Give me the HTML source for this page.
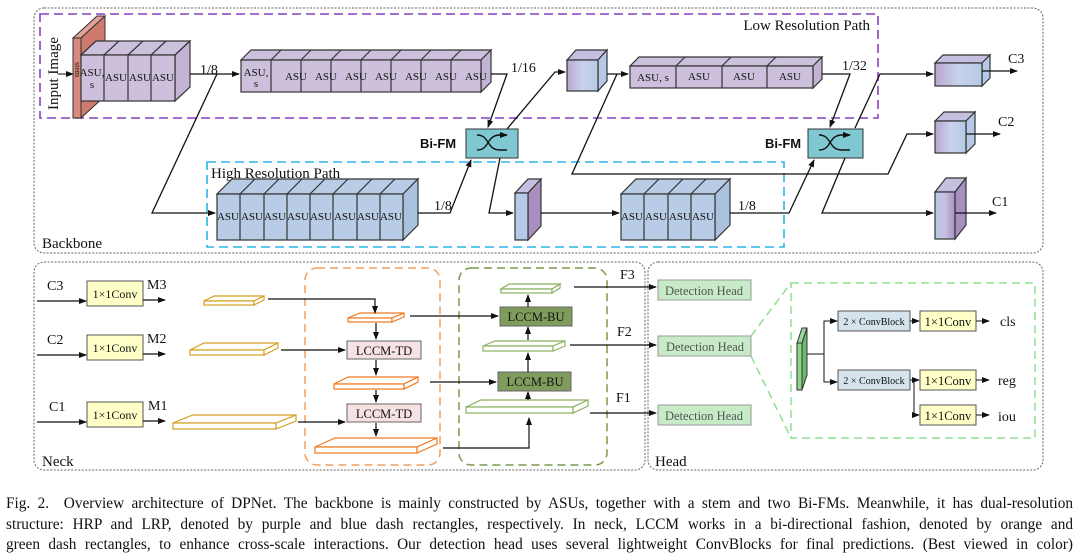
<!DOCTYPE html>
<html><head><meta charset="utf-8"><style>
html,body{margin:0;padding:0;background:#fff;width:1080px;height:557px;overflow:hidden}
svg{position:absolute;left:0;top:0}
svg text{font-family:"Liberation Serif",serif;fill:#111}
.cap{position:absolute;left:6px;width:1067px;font-family:"Liberation Serif",serif;font-size:15.3px;color:#111;text-align:justify;text-align-last:justify;white-space:nowrap;line-height:20.5px}
.cap span{display:block}
</style></head><body>
<svg width="1080" height="557" viewBox="0 0 1080 557">
<defs>
<marker id="a" markerWidth="8" markerHeight="6" refX="7" refY="3" orient="auto" markerUnits="userSpaceOnUse"><path d="M0,0 L8,3 L0,6z" fill="#111"/></marker>
<linearGradient id="g1" x1="0" x2="1"><stop offset="0" stop-color="#b9a6cf"/><stop offset="0.5" stop-color="#c8d2ea"/><stop offset="1" stop-color="#b6c9e6"/></linearGradient>
<linearGradient id="g2" x1="0" x2="1"><stop offset="0" stop-color="#b6c9e6"/><stop offset="0.5" stop-color="#c8c2e0"/><stop offset="1" stop-color="#a88fbf"/></linearGradient>
</defs>
<g fill="none" stroke="#666" stroke-width="1" stroke-dasharray="2,1.5">
<rect x="34" y="8" width="1009" height="245" rx="10"/>
<rect x="34" y="262" width="611" height="208" rx="10"/>
<rect x="648" y="262" width="395" height="208" rx="10"/>
</g>
<rect x="40" y="14" width="838" height="104" fill="none" stroke="#8a3fbf" stroke-width="1.6" stroke-dasharray="9,5"/>
<rect x="207" y="162" width="577" height="85" fill="none" stroke="#2bb5e8" stroke-width="1.6" stroke-dasharray="9,5"/>
<text x="870" y="30" font-size="15" text-anchor="end">Low Resolution Path</text>
<text x="211" y="178" font-size="15">High Resolution Path</text>
<text x="42" y="248" font-size="15">Backbone</text>
<text x="42" y="466" font-size="15">Neck</text>
<text x="655" y="466" font-size="15">Head</text>
<text transform="translate(58,110) rotate(-90)" font-size="15">Input Image</text>
<line x1="58" y1="74" x2="73" y2="74" stroke="#111" marker-end="url(#a)"/>
<g stroke="#333" stroke-width="1">
<polygon points="73,38 81,38 105,16 97,16" fill="#e2a196"/>
<polygon points="81,38 105,16 105,96 81,118" fill="#cf7a6e"/>
<rect x="73" y="38" width="8" height="80" fill="#d9897d"/>
</g>
<text transform="translate(75,62) rotate(90)" font-size="8">stem</text>
<g stroke="#333" stroke-width="1.2" fill="#cdc0dd">
<polygon points="81,55 96,41 190,41 175,55"/>
<polygon points="175,55 190,41 190,87 175,101" fill="#c3b4d6"/>
<rect x="81" y="55" width="94" height="46"/>
<path d="M104,101V55L119,41M128,101V55L143,41M151,101V55L166,41" fill="none"/>
</g>
<g font-size="11" text-anchor="middle"><text x="92" y="76">ASU,</text><text x="92" y="88">s</text><text x="116" y="81">ASU</text><text x="140" y="81">ASU</text><text x="163" y="81">ASU</text></g>
<text x="200" y="74" font-size="14">1/8</text>
<g stroke="#333" stroke-width="1.2" fill="#cdc0dd">
<polygon points="241,60 251,50 491,50 481,60"/>
<polygon points="481,60 491,50 491,82 481,92" fill="#c3b4d6"/>
<rect x="241" y="60" width="240" height="32"/>
<path d="M271,92V60L281,50M301,92V60L311,50M331,92V60L341,50M361,92V60L371,50M391,92V60L401,50M421,92V60L431,50M451,92V60L461,50" fill="none"/>
</g>
<g font-size="11" text-anchor="middle"><text x="256" y="76">ASU,</text><text x="256" y="87">s</text><text x="296" y="80">ASU</text><text x="326" y="80">ASU</text><text x="356" y="80">ASU</text><text x="386" y="80">ASU</text><text x="416" y="80">ASU</text><text x="446" y="80">ASU</text><text x="476" y="80">ASU</text></g>
<text x="511" y="72" font-size="14">1/16</text>
<g stroke="#333" stroke-width="1.2" fill="#cdc0dd">
<polygon points="630,66 639,57 822,57 813,66"/>
<polygon points="813,66 822,57 822,79 813,88" fill="#c3b4d6"/>
<rect x="630" y="66" width="183" height="22"/>
<path d="M676,88V66L685,57M722,88V66L731,57M767,88V66L776,57" fill="none"/>
</g>
<g font-size="11" text-anchor="middle"><text x="653" y="81">ASU, s</text><text x="699" y="80">ASU</text><text x="744" y="80">ASU</text><text x="790" y="80">ASU</text></g>
<text x="842" y="70" font-size="14">1/32</text>
<g stroke="#333" stroke-width="1.2" fill="#b8cce6">
<polygon points="217,194 232,179 418,179 403,194"/>
<polygon points="403,194 418,179 418,225 403,240" fill="#aac1e0"/>
<rect x="217" y="194" width="186" height="46"/>
<path d="M240,240V194L255,179M264,240V194L279,179M287,240V194L302,179M310,240V194L325,179M333,240V194L348,179M357,240V194L372,179M380,240V194L395,179" fill="none"/>
</g>
<g font-size="11" text-anchor="middle"><text x="228" y="220">ASU</text><text x="252" y="220">ASU</text><text x="275" y="220">ASU</text><text x="298" y="220">ASU</text><text x="321" y="220">ASU</text><text x="345" y="220">ASU</text><text x="368" y="220">ASU</text><text x="391" y="220">ASU</text></g>
<text x="434" y="210" font-size="14">1/8</text>
<g stroke="#333" stroke-width="1.2" fill="#b8cce6">
<polygon points="621,194 636,179 730,179 715,194"/>
<polygon points="715,194 730,179 730,225 715,240" fill="#aac1e0"/>
<rect x="621" y="194" width="94" height="46"/>
<path d="M644,240V194L659,179M668,240V194L683,179M691,240V194L706,179" fill="none"/>
</g>
<g font-size="11" text-anchor="middle"><text x="632" y="220">ASU</text><text x="656" y="220">ASU</text><text x="680" y="220">ASU</text><text x="703" y="220">ASU</text></g>
<text x="738" y="210" font-size="14">1/8</text>
<g stroke="#333" stroke-width="1.2">
<polygon points="567,60 576,50 607,50 598,60" fill="#c5c0e0"/><polygon points="598,60 607,50 607,81 598,91" fill="#b6c9e6"/><rect x="567" y="60" width="31" height="31" fill="url(#g1)"/>
<polygon points="515,193 528,179 541,179 528,193" fill="#c5c0e0"/><polygon points="528,193 541,179 541,226 528,240" fill="#a88fbf"/><rect x="515" y="193" width="13" height="47" fill="#b6c9e6"/>
<polygon points="935,63 943,55 990,55 982,63" fill="#c5c0e0"/><polygon points="982,63 990,55 990,78 982,86" fill="#b6c9e6"/><rect x="935" y="63" width="47" height="23" fill="url(#g1)"/>
<polygon points="935,121 944,112 975,112 966,121" fill="#c5c0e0"/><polygon points="966,121 975,112 975,144 966,153" fill="#b6c9e6"/><rect x="935" y="121" width="31" height="32" fill="url(#g1)"/>
<polygon points="935,192 946,178 966,178 955,192" fill="#c5c0e0"/><polygon points="955,192 966,178 966,225 955,239" fill="#a88fbf"/><rect x="935" y="192" width="20" height="47" fill="url(#g2)"/>
</g>
<g stroke="#333" stroke-width="1"><rect x="466" y="129" width="52" height="29" fill="#7fc8d2"/><rect x="808" y="129" width="55" height="29" fill="#7fc8d2"/></g>
<g fill="none" stroke="#111" stroke-width="1.4">
<path d="M477,135 C490,135 486,150 500,150 L507,150 M477,150 C490,150 486,135 500,135 L507,135" marker-end="url(#a)"/>
<path d="M819,135 C832,135 828,150 842,150 L850,150 M819,150 C832,150 828,135 842,135 L850,135" marker-end="url(#a)"/>
</g>
<text x="420" y="148" font-size="13" font-weight="bold" style="font-family:'Liberation Sans',sans-serif">Bi-FM</text>
<text x="765" y="148" font-size="13" font-weight="bold" style="font-family:'Liberation Sans',sans-serif">Bi-FM</text>
<g fill="none" stroke="#111" stroke-width="1.3">
<path d="M190,74 H239" marker-end="url(#a)"/>
<path d="M217,74 L152,213 H215" marker-end="url(#a)"/>
<path d="M491,74 H507 L488,127" marker-end="url(#a)"/>
<path d="M418,213 H450 L471,160" marker-end="url(#a)"/>
<path d="M507,129 L555,72 H565" marker-end="url(#a)"/>
<path d="M500,158 L489,213 H513" marker-end="url(#a)"/>
<path d="M607,74 H628" marker-end="url(#a)"/>
<path d="M617,74 L572,174 H888 L907,134 H933" marker-end="url(#a)"/>
<path d="M541,213 H619" marker-end="url(#a)"/>
<path d="M822,74 H850 L830,127" marker-end="url(#a)"/>
<path d="M730,213 H789 L814,160" marker-end="url(#a)"/>
<path d="M855,128 L880,74 H933" marker-end="url(#a)"/>
<path d="M845,158 L822,213 H933" marker-end="url(#a)"/>
<path d="M982,71 H1017" marker-end="url(#a)"/>
<path d="M966,134 H1000" marker-end="url(#a)"/>
<path d="M955,213 H996" marker-end="url(#a)"/>
</g>
<g font-size="14"><text x="1008" y="63">C3</text><text x="998" y="126">C2</text><text x="992" y="206">C1</text></g>
<rect x="305" y="268" width="135" height="197" rx="12" fill="none" stroke="#f0a060" stroke-width="1.5" stroke-dasharray="8,5"/>
<rect x="459" y="268" width="148" height="197" rx="12" fill="none" stroke="#7a9a4a" stroke-width="1.5" stroke-dasharray="8,5"/>
<g stroke="#555" stroke-width="1" fill="#ffffc8"><rect x="87" y="281" width="56" height="25"/><rect x="87" y="335" width="56" height="25"/><rect x="87" y="402" width="56" height="25"/></g>
<g font-size="12" text-anchor="middle"><text x="115" y="298">1×1Conv</text><text x="115" y="352">1×1Conv</text><text x="115" y="419">1×1Conv</text></g>
<g font-size="14"><text x="47" y="290">C3</text><text x="47" y="344">C2</text><text x="49" y="411">C1</text><text x="147" y="289">M3</text><text x="147" y="343">M2</text><text x="148" y="410">M1</text></g>
<g fill="none" stroke="#111" stroke-width="1.3">
<path d="M37,301H86" marker-end="url(#a)"/><path d="M37,355H86" marker-end="url(#a)"/><path d="M37,422H86" marker-end="url(#a)"/>
<path d="M143,300H165" marker-end="url(#a)"/><path d="M143,354H165" marker-end="url(#a)"/><path d="M143,421H165" marker-end="url(#a)"/>
</g>
<g stroke="#d4a020" stroke-width="1.2" fill="#fff">
<polygon points="204,301 214,296 264,296 254,301"/><rect x="204" y="301" width="50" height="4"/><polygon points="254,301 264,296 264,300 254,305"/>
<polygon points="190,350 204,343 278,343 264,350"/><rect x="190" y="350" width="74" height="5"/><polygon points="264,350 278,343 278,348 264,355"/>
<polygon points="173,423 193,415 296,415 276,423"/><rect x="173" y="423" width="103" height="6"/><polygon points="276,423 296,415 296,421 276,429"/>
</g>
<g stroke="#f07a20" stroke-width="1.2" fill="#fff">
<polygon points="348,318 360,313 404,313 392,318"/><rect x="348" y="318" width="44" height="4"/><polygon points="392,318 404,313 404,317 392,322"/>
<polygon points="334,384 348,377 418,377 404,384"/><rect x="334" y="384" width="70" height="5"/><polygon points="404,384 418,377 418,382 404,389"/>
<polygon points="315,447 335,438 437,438 417,447"/><rect x="315" y="447" width="102" height="6"/><polygon points="417,447 437,438 437,444 417,453"/>
</g>
<g stroke="#8ab060" stroke-width="1.2" fill="#fff">
<polygon points="501,289 509,284 560,284 552,289"/><rect x="501" y="289" width="51" height="4"/><polygon points="552,289 560,284 560,288 552,293"/>
<polygon points="483,346 495,341 565,341 553,346"/><rect x="483" y="346" width="70" height="5"/><polygon points="553,346 565,341 565,346 553,351"/>
<polygon points="466,407 481,400 588,400 573,407"/><rect x="466" y="407" width="107" height="6"/><polygon points="573,407 588,400 588,406 573,413"/>
</g>
<g stroke="#666" stroke-width="1"><rect x="347" y="341" width="74" height="18" fill="#f6e2e2"/><rect x="347" y="404" width="74" height="18" fill="#f6e2e2"/>
<rect x="500" y="307" width="72" height="19" fill="#7f9c5c"/><rect x="498" y="372" width="73" height="19" fill="#7f9c5c"/></g>
<g font-size="12.5" text-anchor="middle"><text x="384" y="355">LCCM-TD</text><text x="384" y="418">LCCM-TD</text><text x="536" y="321">LCCM-BU</text><text x="535" y="386">LCCM-BU</text></g>
<g fill="none" stroke="#111" stroke-width="1.2">
<path d="M268,299H375V313" marker-end="url(#a)"/>
<path d="M376,323V339" marker-end="url(#a)"/>
<path d="M281,350H345" marker-end="url(#a)"/>
<path d="M376,360V375" marker-end="url(#a)"/>
<path d="M376,390V402" marker-end="url(#a)"/>
<path d="M298,422H345" marker-end="url(#a)"/>
<path d="M376,423V436" marker-end="url(#a)"/>
<path d="M443,448H529V418" marker-end="url(#a)"/>
<path d="M410,316H498" marker-end="url(#a)"/>
<path d="M430,382H496" marker-end="url(#a)"/>
<path d="M528,400V392" marker-end="url(#a)"/>
<path d="M528,372V353" marker-end="url(#a)"/>
<path d="M528,340V327" marker-end="url(#a)"/>
<path d="M528,307V295" marker-end="url(#a)"/>
<path d="M574,287H656" marker-end="url(#a)"/>
<path d="M570,345H656" marker-end="url(#a)"/>
<path d="M590,413H656" marker-end="url(#a)"/>
</g>
<g font-size="14"><text x="620" y="279">F3</text><text x="617" y="336">F2</text><text x="616" y="402">F1</text></g>
<g stroke="#999" stroke-width="1" fill="#c6ebc6"><rect x="658" y="280" width="93" height="20"/><rect x="658" y="336" width="93" height="20"/><rect x="658" y="405" width="93" height="20"/></g>
<g font-size="12.5" text-anchor="middle"><text x="704" y="295" style="fill:#555">Detection Head</text><text x="705" y="351" style="fill:#555">Detection Head</text><text x="704" y="420" style="fill:#555">Detection Head</text></g>
<g stroke="#90e090" stroke-width="1.5" stroke-dasharray="8,5" fill="none"><rect x="791" y="283" width="244" height="155"/><path d="M751,336L791,283M751,356L791,438"/></g>
<g stroke="#333" stroke-width="1"><polygon points="797,343 802,328 807,328 802,343" fill="#9ad89a"/><polygon points="802,343 807,328 807,375 802,390" fill="#6cb86c"/><rect x="797" y="343" width="5" height="47" fill="#8fd48f"/></g>
<g stroke="#555" stroke-width="1"><rect x="838" y="311" width="72" height="20" fill="#d5e4ec"/><rect x="838" y="370" width="72" height="20" fill="#d5e4ec"/>
<rect x="920" y="311" width="56" height="20" fill="#ffffc8"/><rect x="920" y="370" width="56" height="20" fill="#ffffc8"/><rect x="920" y="405" width="56" height="20" fill="#ffffc8"/></g>
<g font-size="10" text-anchor="middle"><text x="874" y="325">2 × ConvBlock</text><text x="874" y="384">2 × ConvBlock</text></g>
<g font-size="12.5" text-anchor="middle"><text x="948" y="326">1×1Conv</text><text x="948" y="385">1×1Conv</text><text x="948" y="420">1×1Conv</text></g>
<g font-size="14"><text x="1000" y="326">cls</text><text x="998" y="385">reg</text><text x="998" y="421">iou</text></g>
<g fill="none" stroke="#111" stroke-width="1">
<path d="M807,354H824V321H837" marker-end="url(#a)"/><path d="M824,354V382H837" marker-end="url(#a)"/>
<path d="M910,321H919" marker-end="url(#a)"/><path d="M910,380H919" marker-end="url(#a)"/><path d="M914,380V415H919" marker-end="url(#a)"/>
<path d="M976,321H989" marker-end="url(#a)"/><path d="M976,380H989" marker-end="url(#a)"/><path d="M976,415H989" marker-end="url(#a)"/>
</g>
</svg>
<div class="cap" style="top:494px">
<span>Fig. 2.&nbsp; Overview architecture of DPNet. The backbone is mainly constructed by ASUs, together with a stem and two Bi-FMs. Meanwhile, it has dual-resolution</span>
<span>structure: HRP and LRP, denoted by purple and blue dash rectangles, respectively. In neck, LCCM works in a bi-directional fashion, denoted by orange and</span>
<span>green dash rectangles, to enhance cross-scale interactions. Our detection head uses several lightweight ConvBlocks for final predictions. (Best viewed in color)</span>
</div>
</body></html>
